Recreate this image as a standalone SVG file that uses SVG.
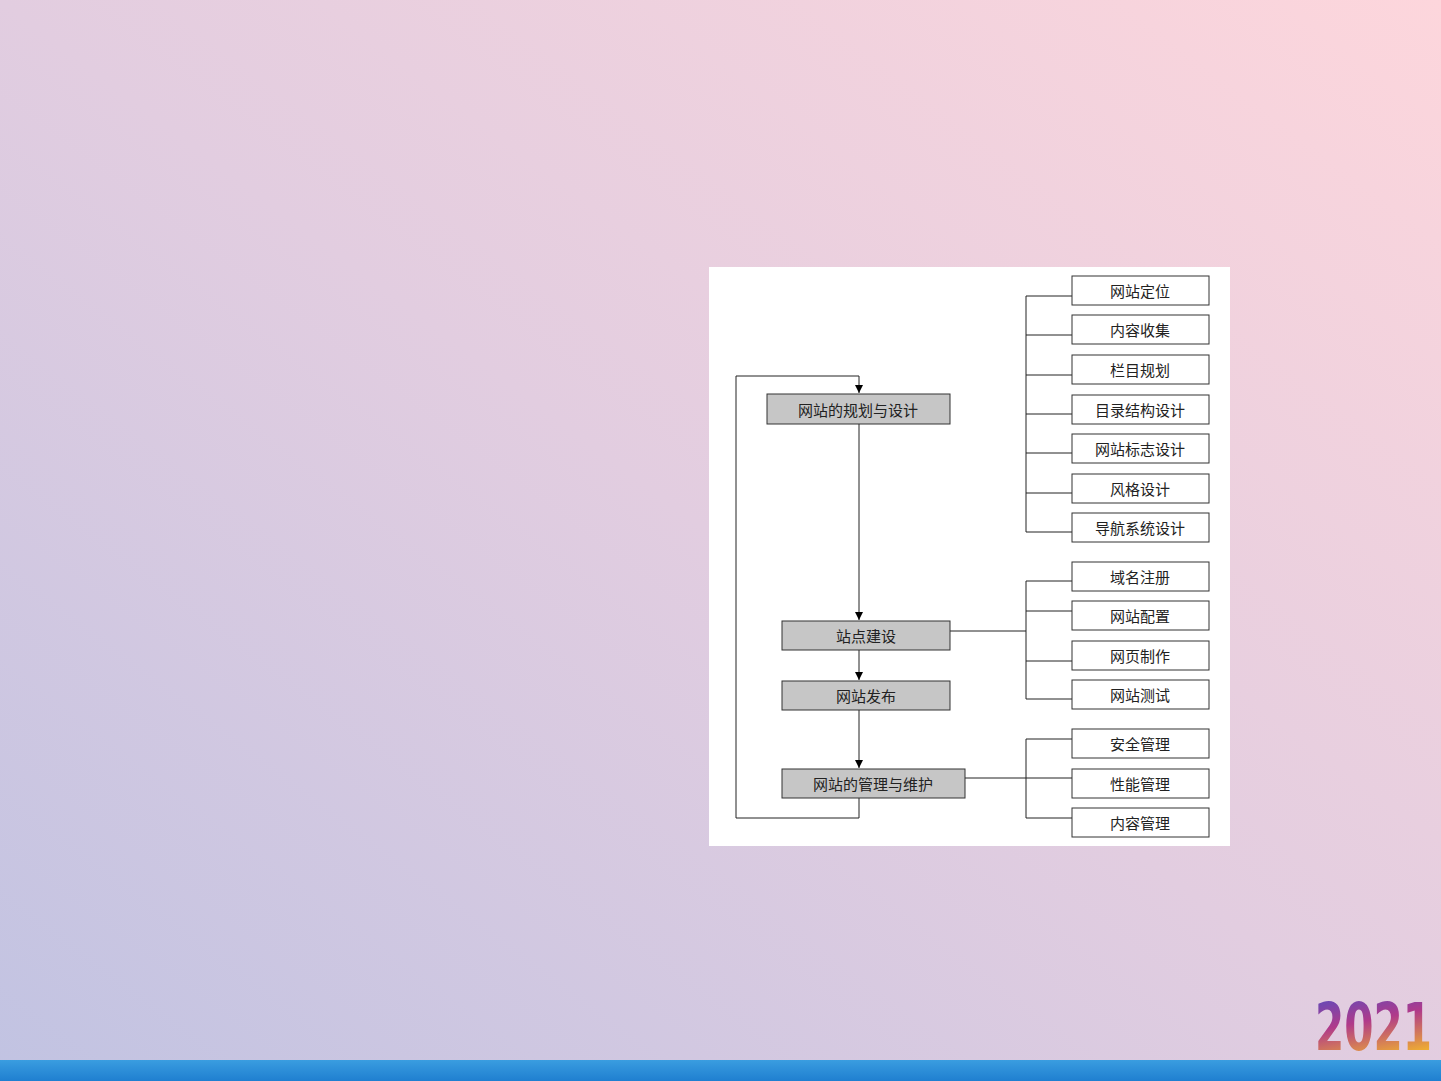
<svg xmlns="http://www.w3.org/2000/svg" width="1441" height="1081" viewBox="0 0 1441 1081">
<defs>
<linearGradient id="bg" x1="1" y1="0" x2="0" y2="1"><stop offset="0" stop-color="#fdd6dc"/><stop offset="0.5" stop-color="#e2cde0"/><stop offset="1" stop-color="#c1c3e2"/></linearGradient>
<linearGradient id="bar" x1="0" y1="0" x2="0" y2="1"><stop offset="0" stop-color="#3a9de0"/><stop offset="1" stop-color="#1f7fd0"/></linearGradient>
<linearGradient id="yr" x1="0" y1="0" x2="0.3" y2="1"><stop offset="0" stop-color="#4a50c8"/><stop offset="0.5" stop-color="#b03a8a"/><stop offset="1" stop-color="#f0b030"/></linearGradient>
<marker id="ar" markerWidth="10" markerHeight="10" refX="8" refY="5" orient="auto" markerUnits="userSpaceOnUse"><path d="M0,1 L8,5 L0,9 Z" fill="#000"/></marker>
<style>
.g{fill:#c6c6c6;stroke:#333;stroke-width:1}
.w{fill:#fff;stroke:#333;stroke-width:1}
.t{font-family:"Noto Sans CJK SC",sans-serif;font-size:15px;fill:#222;text-anchor:middle;dominant-baseline:central}
.c{fill:none;stroke:#222;stroke-width:1}
</style>
</defs>
<rect width="1441" height="1081" fill="url(#bg)"/>
<rect x="0" y="1060" width="1441" height="21" fill="url(#bar)"/>
<text x="1315" y="1050" font-family="'DejaVu Sans Condensed',sans-serif" font-weight="bold" font-size="66" fill="url(#yr)" textLength="117" lengthAdjust="spacingAndGlyphs">2021</text>
<rect x="709" y="267" width="521" height="579" fill="#fff"/>
<g id="connectors">
<path class="c" d="M859,424 V620" marker-end="url(#ar)"/>
<path class="c" d="M859,650 V680" marker-end="url(#ar)"/>
<path class="c" d="M859,710 V768" marker-end="url(#ar)"/>
<path class="c" d="M859,798 V818 H736 V376 H859 V393" marker-end="url(#ar)"/>
<path class="c" d="M1072,296 H1026 V532 H1072 M1026,335 H1072 M1026,375 H1072 M1026,414 H1072 M1026,453 H1072 M1026,493 H1072"/>
<path class="c" d="M950,631 H1026 M1072,581 H1026 V699 H1072 M1026,611 H1072 M1026,661 H1072"/>
<path class="c" d="M965,778 H1026 M1072,739 H1026 V818 H1072 M1026,778 H1072"/>
</g>
<g id="n1"><rect class="g" x="767" y="394" width="183" height="30"/><text class="t" x="858" y="409">网站的规划与设计</text></g>
<g id="n2"><rect class="g" x="782" y="621" width="168" height="29"/><text class="t" x="866" y="635">站点建设</text></g>
<g id="n3"><rect class="g" x="782" y="681" width="168" height="29"/><text class="t" x="866" y="695">网站发布</text></g>
<g id="n4"><rect class="g" x="782" y="769" width="183" height="29"/><text class="t" x="873" y="783">网站的管理与维护</text></g>
<g id="r1"><rect class="w" x="1072" y="276" width="137" height="29"/><text class="t" x="1140" y="290">网站定位</text></g>
<g id="r2"><rect class="w" x="1072" y="315" width="137" height="29"/><text class="t" x="1140" y="329">内容收集</text></g>
<g id="r3"><rect class="w" x="1072" y="355" width="137" height="29"/><text class="t" x="1140" y="369">栏目规划</text></g>
<g id="r4"><rect class="w" x="1072" y="395" width="137" height="29"/><text class="t" x="1140" y="409">目录结构设计</text></g>
<g id="r5"><rect class="w" x="1072" y="434" width="137" height="29"/><text class="t" x="1140" y="448">网站标志设计</text></g>
<g id="r6"><rect class="w" x="1072" y="474" width="137" height="29"/><text class="t" x="1140" y="488">风格设计</text></g>
<g id="r7"><rect class="w" x="1072" y="513" width="137" height="29"/><text class="t" x="1140" y="527">导航系统设计</text></g>
<g id="r8"><rect class="w" x="1072" y="562" width="137" height="29"/><text class="t" x="1140" y="576">域名注册</text></g>
<g id="r9"><rect class="w" x="1072" y="601" width="137" height="29"/><text class="t" x="1140" y="615">网站配置</text></g>
<g id="r10"><rect class="w" x="1072" y="641" width="137" height="29"/><text class="t" x="1140" y="655">网页制作</text></g>
<g id="r11"><rect class="w" x="1072" y="680" width="137" height="29"/><text class="t" x="1140" y="694">网站测试</text></g>
<g id="r12"><rect class="w" x="1072" y="729" width="137" height="29"/><text class="t" x="1140" y="743">安全管理</text></g>
<g id="r13"><rect class="w" x="1072" y="769" width="137" height="29"/><text class="t" x="1140" y="783">性能管理</text></g>
<g id="r14"><rect class="w" x="1072" y="808" width="137" height="29"/><text class="t" x="1140" y="822">内容管理</text></g>
</svg>
